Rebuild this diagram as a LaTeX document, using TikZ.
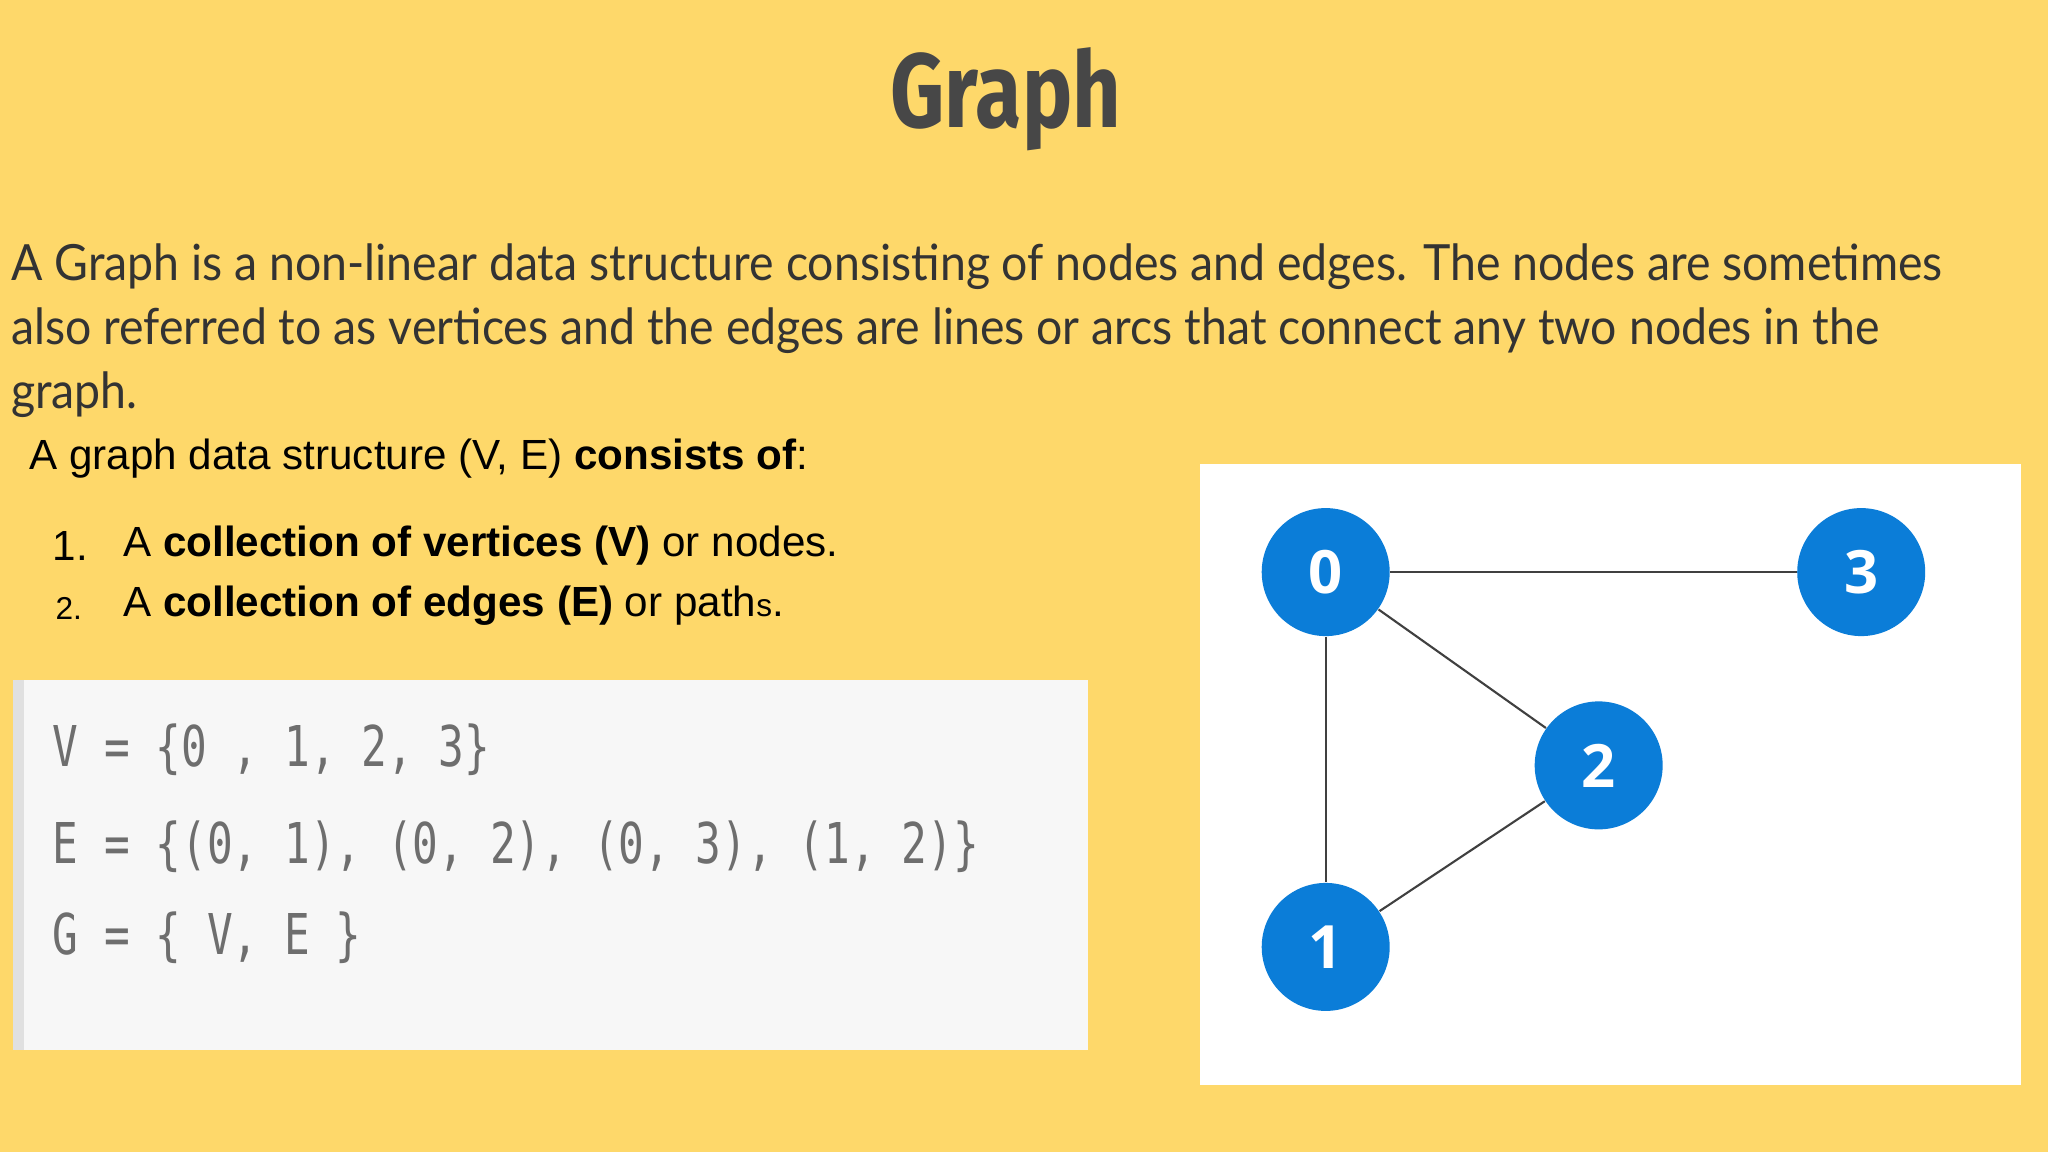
\documentclass[tikz,border=0pt]{standalone}
\usepackage{fontspec}
\setmainfont{Liberation Sans}
\newfontfamily\titlefont{Fira Sans}
\newfontfamily\parafont{Lato}
\newfontfamily\codefont{DejaVu Sans Mono}
\newfontfamily\nodefont{Open Sans}
\definecolor{bg}{HTML}{FED86A}
\definecolor{nodeblue}{HTML}{0B7DD8}
\definecolor{codegray}{HTML}{6E6E6E}
\begin{document}
\begin{tikzpicture}[x=0.01306cm,y=-0.01306cm,
  vert/.style={circle,fill=nodeblue,minimum size={98*0.01306cm},inner sep=0pt,text=white,font=\nodefont\bfseries\fontsize{17}{20}\selectfont},
  edge/.style={draw=black!75,line width=0.6pt},
  para/.style={anchor=west,inner sep=0pt,xscale=0.93,font=\parafont\fontsize{14.2}{17}\selectfont,text=black!80},
  item/.style={anchor=west,inner sep=0pt,font=\fontsize{12}{14}\selectfont},
  code/.style={anchor=west,inner sep=0pt,xscale=0.76,font=\codefont\fontsize{16}{19}\selectfont,text=codegray}]
\fill[bg] (0,0) rectangle (1568,882);
\useasboundingbox (0,0) rectangle (1568,882);
\node[font=\titlefont\bfseries\fontsize{30}{34}\selectfont,text=black!72,xscale=0.8] (title) at (770,76) {Graph};
\node[para] (p1) at (8,204) {A Graph is a non-linear data structure consisting of nodes and edges. The nodes are sometimes};
\node[para] (p2) at (8,253) {also referred to as vertices and the edges are lines or arcs that connect any two nodes in the};
\node[para] (p3) at (8,302) {graph.};
\node[item] (s) at (22,351) {A graph data structure (V, E) \textbf{consists of}:};
\node[item] (n1) at (40,418) {1.};
\node[item] (l1) at (94,418) {A \textbf{collection of vertices (V)} or nodes.};
\node[anchor=west,inner sep=0pt,font=\fontsize{9}{11}\selectfont] (n2) at (42,466) {2.};
\node[item] (l2) at (94,464) {A \textbf{collection of edges (E)} or path{\fontsize{9}{11}\selectfont s}.};
\fill[black!3] (10,521) rectangle (833,804);
\fill[black!12] (10,521) rectangle (18,804);
\node[code] (c1) at (40,574) {V = \{0 , 1, 2, 3\}};
\node[code] (c2) at (40,648) {E = \{(0, 1), (0, 2), (0, 3), (1, 2)\}};
\node[code] (c3) at (40,718) {G = \{ V, E \}};
\fill[white] (919,355) rectangle (1547,831);
\node[vert] (v0) at (1015,438) {0};
\node[vert] (v3) at (1425,438) {3};
\node[vert] (v2) at (1224,586) {2};
\node[vert] (v1) at (1015,725) {1};
\draw[edge] (v0) -- (v3);
\draw[edge] (v0) -- (v2);
\draw[edge] (v0) -- (v1);
\draw[edge] (v1) -- (v2);
\end{tikzpicture}
\end{document}
